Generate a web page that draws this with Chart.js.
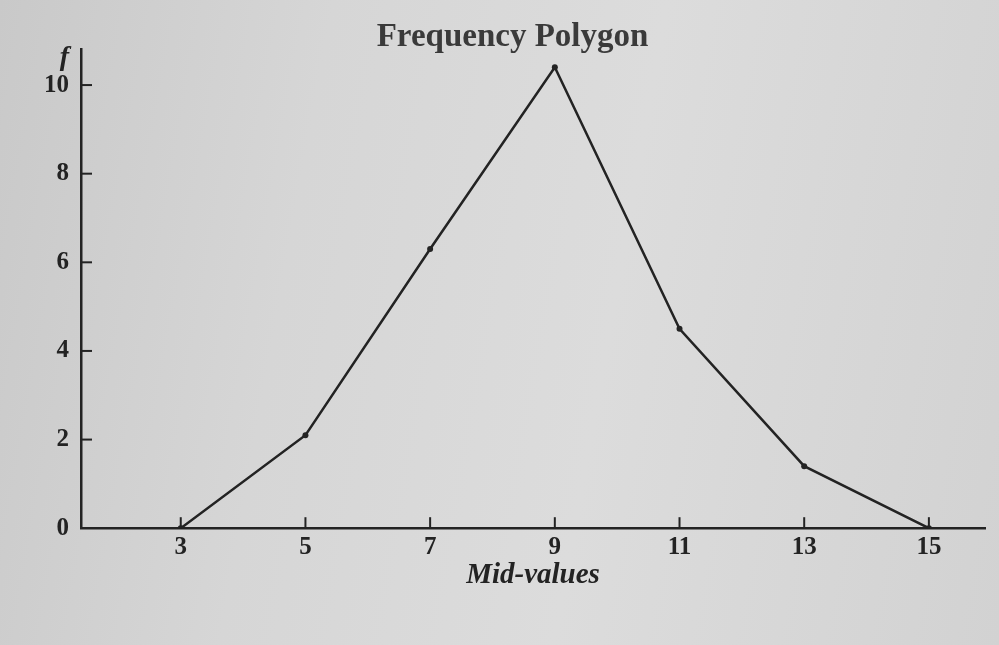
<!DOCTYPE html>
<html>
<head>
<meta charset="utf-8">
<script src="https://cdn.jsdelivr.net/npm/chart.js@4"></script>
<style>
  html, body { margin: 0; padding: 0; }
  body {
    width: 999px; height: 645px; overflow: hidden;
    background: linear-gradient(100deg, #c9c9c9 0%, #d6d6d6 30%, #dcdcdc 60%, #d2d2d2 100%);
  }
  #wrap { width: 999px; height: 645px; }
</style>
</head>
<body>
<div id="wrap"><canvas id="polyChart"></canvas></div>
<script>
// Frequency polygon data
const midValues = [3, 5, 7, 9, 11, 13, 15];
const frequencies = [0, 2.1, 6.3, 10.4, 4.5, 1.4, 0];
const xTickValues = [3, 5, 7, 9, 11, 13, 15];
const yTickValues = [0, 2, 4, 6, 8, 10];

const ink = '#232323';
const serif = '"Liberation Serif", "DejaVu Serif", serif';

// small tick marks drawn inside the axes, plus the "f" label
const innerTicks = {
    id: 'innerTicks',
    afterDraw(chart) {
        const ctx = chart.ctx;
        const xs = chart.scales.x, ys = chart.scales.y;
        ctx.save();
        ctx.strokeStyle = ink;
        ctx.lineWidth = 2;
        xTickValues.forEach(v => {
            const px = xs.getPixelForValue(v);
            ctx.beginPath();
            ctx.moveTo(px, ys.bottom);
            ctx.lineTo(px, ys.bottom - 11);
            ctx.stroke();
        });
        yTickValues.filter(v => v > 0).forEach(v => {
            const py = ys.getPixelForValue(v);
            ctx.beginPath();
            ctx.moveTo(xs.left, py);
            ctx.lineTo(xs.left + 11, py);
            ctx.stroke();
        });
        ctx.fillStyle = ink;
        ctx.font = 'italic bold 28px ' + serif;
        ctx.textAlign = 'right';
        ctx.textBaseline = 'bottom';
        ctx.fillText('f', xs.left - 12, ys.top + 22);
        ctx.restore();
    }
};

new Chart(document.getElementById('polyChart'), {
    type: 'scatter',
    data: {
        datasets: [{
            label: 'Frequency',
            data: midValues.map((m, i) => ({ x: m, y: frequencies[i] })),
            showLine: true,
            borderColor: ink,
            borderWidth: 2.5,
            pointRadius: 3,
            pointBackgroundColor: ink,
            pointBorderWidth: 0,
            tension: 0
        }]
    },
    options: {
        responsive: true,
        maintainAspectRatio: false,
        animation: false,
        layout: { padding: { left: 40, right: 14, top: 0, bottom: 48 } },
        plugins: {
            legend: { display: false },
            tooltip: { enabled: false },
            title: {
                display: true,
                text: 'Frequency Polygon',
                color: '#3a3a3a',
                font: { family: serif, size: 33, weight: 'bold' },
                padding: { top: 18, bottom: -8 }
            }
        },
        scales: {
            x: {
                type: 'linear',
                min: 1.4,
                max: 15.9,
                afterBuildTicks: axis => { axis.ticks = xTickValues.map(v => ({ value: v })); },
                grid: { display: false },
                border: { display: true, color: ink, width: 2.5 },
                ticks: {
                    color: ink,
                    padding: -4,
                    font: { family: serif, size: 25, weight: 'bold' }
                },
                title: {
                    display: true,
                    text: 'Mid-values',
                    color: ink,
                    padding: { top: 0 },
                    font: { family: serif, size: 29, weight: 'bold', style: 'italic' }
                }
            },
            y: {
                type: 'linear',
                min: 0,
                max: 10.8,
                afterBuildTicks: axis => { axis.ticks = yTickValues.map(v => ({ value: v })); },
                grid: { display: false },
                border: { display: true, color: ink, width: 2.5 },
                ticks: {
                    color: ink,
                    padding: 4,
                    font: { family: serif, size: 25, weight: 'bold' }
                }
            }
        }
    },
    plugins: [innerTicks]
});
</script>
</body>
</html>
